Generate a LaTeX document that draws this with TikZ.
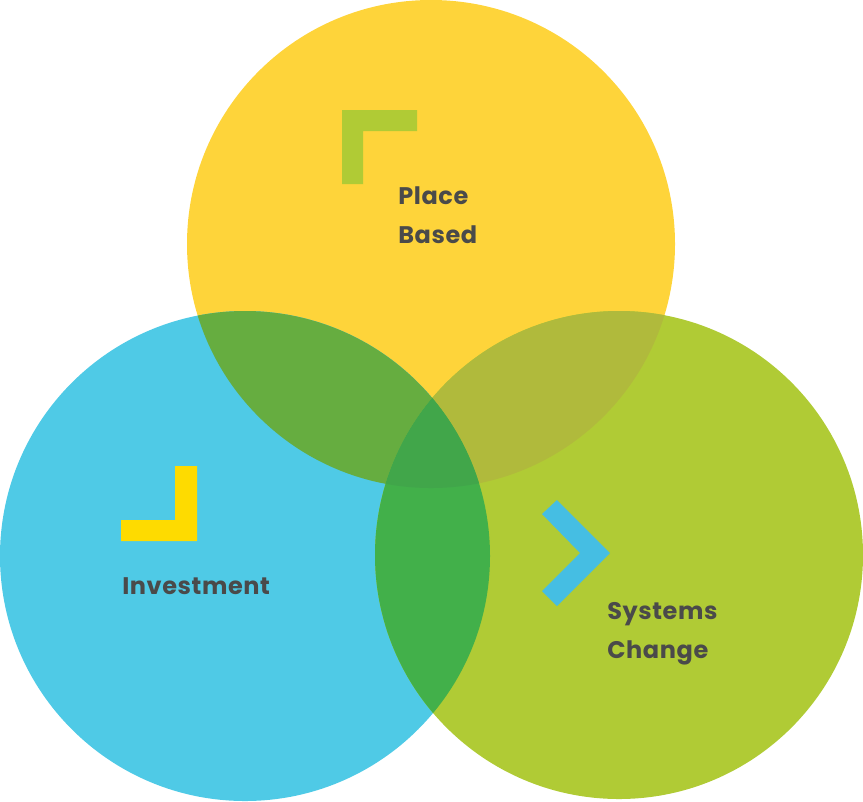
\documentclass[tikz,border=0pt]{standalone}
\usepackage{fontspec}
\newfontfamily\vennfont[LetterSpace=2.5]{Poppins}
\usetikzlibrary{positioning}
\definecolor{sun}{HTML}{FED43A}
\definecolor{sky}{HTML}{4FCAE6}
\definecolor{lime}{HTML}{B0CB35}
\definecolor{sunsky}{HTML}{66AD40}
\definecolor{sunlime}{HTML}{B0BA3C}
\definecolor{skylime}{HTML}{42B04A}
\definecolor{core}{HTML}{41A64A}
\definecolor{ink}{HTML}{4A4A4A}
\definecolor{chev}{HTML}{45BEE3}
\definecolor{gold}{HTML}{FEDB00}

\begin{document}
\begin{tikzpicture}[x=0.75pt, y=-0.75pt,
    lbl/.style={font=\vennfont\bfseries\fontsize{18}{29}\selectfont, text=ink,
                align=left, inner sep=0pt, anchor=base west}
  ]
  \useasboundingbox (0,0) rectangle (863,801);

  % circle centres
  \coordinate (top) at (431,244);
  \coordinate (left) at (245,556);
  \coordinate (right) at (619,555);
  \def\ry{244}\def\rb{245}\def\rg{244}

  % base discs
  \fill[sun] (top) circle[radius=\ry];
  \fill[sky] (left) circle[radius=\rb];
  \fill[lime] (right) circle[radius=\rg];

  % pairwise overlaps
  \begin{scope}
    \clip (top) circle[radius=\ry];
    \fill[sunsky] (left) circle[radius=\rb];
    \fill[sunlime] (right) circle[radius=\rg];
  \end{scope}
  \begin{scope}
    \clip (left) circle[radius=\rb];
    \fill[skylime] (right) circle[radius=\rg];
  \end{scope}
  % middle of all three
  \begin{scope}
    \clip (top) circle[radius=\ry];
    \clip (left) circle[radius=\rb];
    \fill[core] (right) circle[radius=\rg];
  \end{scope}

  % corner marks
  \fill[lime] (342,110) -- (417,110) -- (417,131) -- (363,131)
    -- (363,184) -- (342,184) -- cycle;
  \fill[gold] (175,466) -- (197,466) -- (197,541) -- (121,541)
    -- (121,520) -- (175,520) -- cycle;
  \fill[chev] (542,514) -- (557,500) -- (610,553) -- (557,606)
    -- (542,591) -- (580,553) -- cycle;

  % labels (base anchor sits on the last line)
  \node[lbl] (place) at (398,243) {Place\\Based};
  \node[lbl] (invest) at (122,594) {Investment};
  \node[lbl] (systems) at (607,658) {Systems\\Change};
\end{tikzpicture}
\end{document}
